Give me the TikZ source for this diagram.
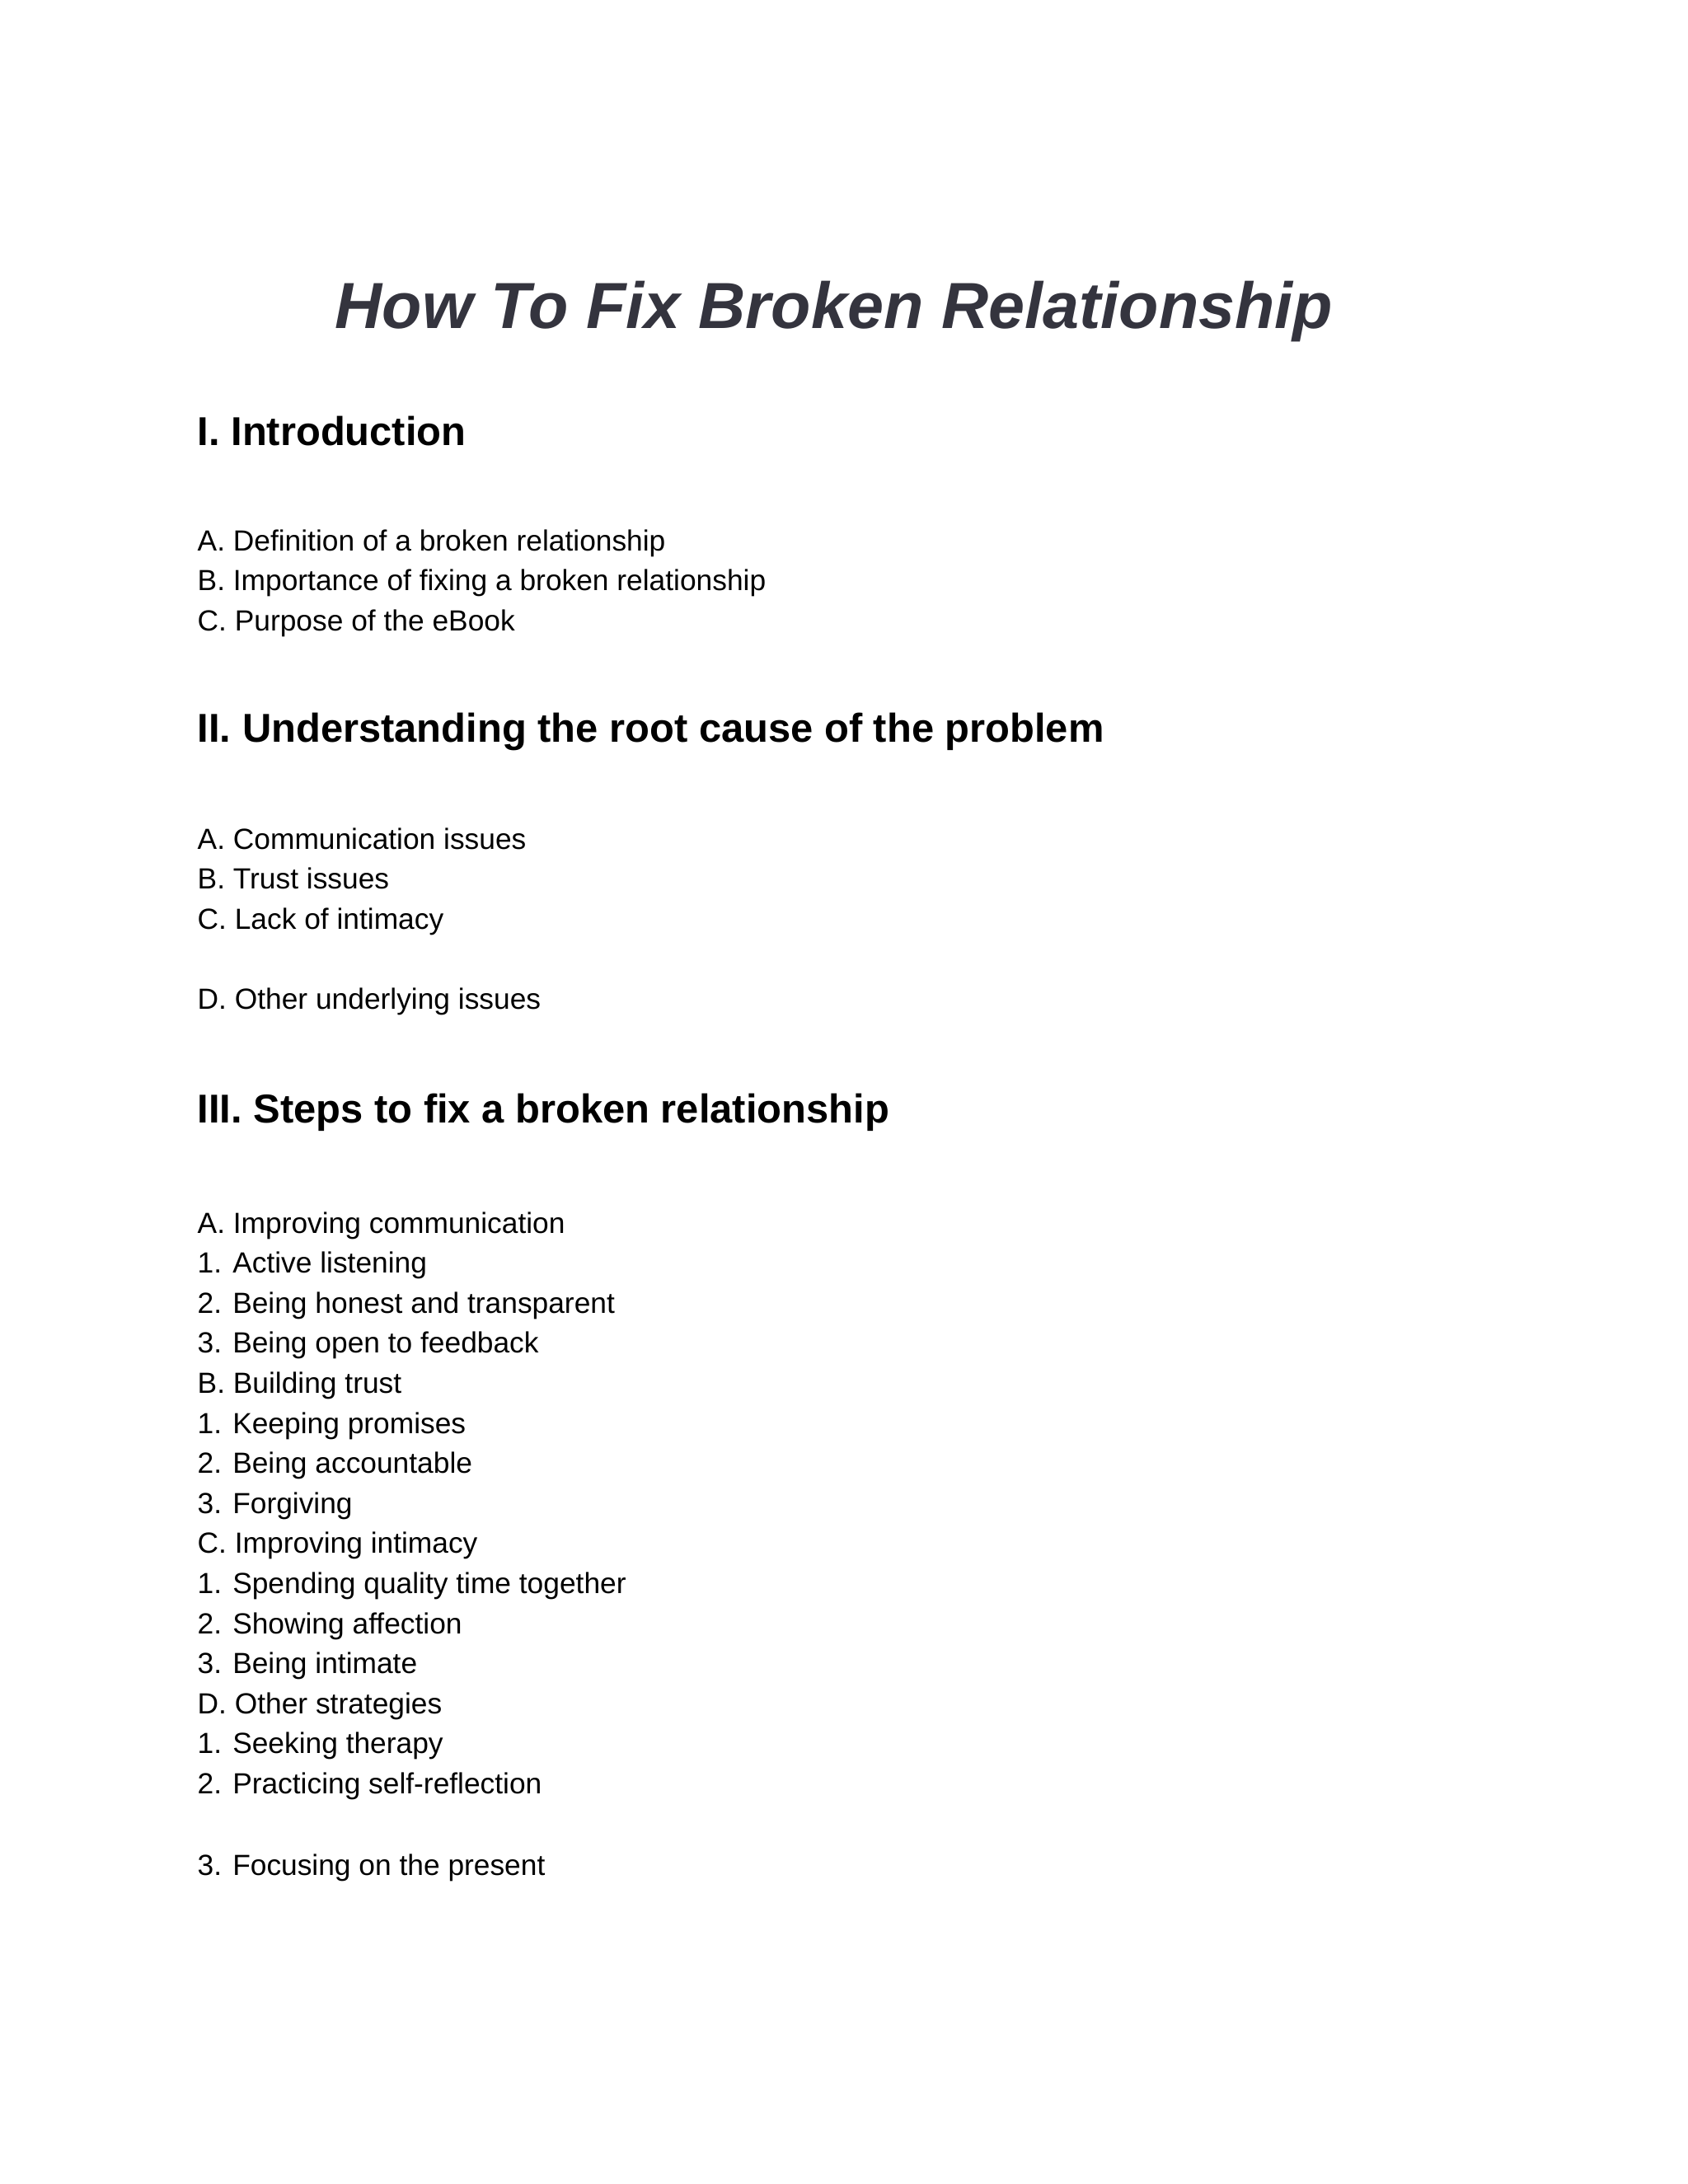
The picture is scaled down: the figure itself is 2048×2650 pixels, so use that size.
\documentclass[tikz,border=0pt]{standalone}
\usepackage{fontspec}
\setmainfont{Liberation Sans}
\definecolor{titlegrey}{HTML}{34343E}
\tikzset{
  titletext/.style={anchor=base, inner sep=0pt, text=titlegrey, font=\fontsize{22.5pt}{27pt}\selectfont\bfseries\itshape},
  headtext/.style={anchor=base west, inner sep=0pt, font=\fontsize{13.9pt}{17pt}\selectfont\bfseries},
  itemtext/.style={anchor=base west, inner sep=0pt, font=\fontsize{10.05pt}{12pt}\selectfont}
}
\begin{document}
\begin{tikzpicture}[x=0.01cm, y=-0.01cm]
    \useasboundingbox (0,0) rectangle (2048,2650);

    % Title
    \node[titletext] (title) at (1012,398) {How To Fix Broken Relationship};

    % Section I
    \node[headtext] (h1) at (239,540) {I. Introduction};
    \node[itemtext] (i1a) at (239,668) {A. Definition of a broken relationship};
    \node[itemtext] (i1b) at (239,716) {B. Importance of fixing a broken relationship};
    \node[itemtext] (i1c) at (239,765) {C. Purpose of the eBook};

    % Section II
    \node[headtext] (h2) at (239,900) {II. Understanding the root cause of the problem};
    \node[itemtext] (i2a) at (239,1030) {A. Communication issues};
    \node[itemtext] (i2b) at (239,1078) {B. Trust issues};
    \node[itemtext] (i2c) at (239,1127) {C. Lack of intimacy};
    \node[itemtext] (i2d) at (239,1224) {D. Other underlying issues};

    % Section III
    \node[headtext] (h3) at (239,1362) {III. Steps to fix a broken relationship};
    \foreach \txt [count=\k from 0] in {A. Improving communication, 1. Active listening,
        2. Being honest and transparent, 3. Being open to feedback, B. Building trust,
        1. Keeping promises, 2. Being accountable, 3. Forgiving, C. Improving intimacy,
        1. Spending quality time together, 2. Showing affection, 3. Being intimate,
        D. Other strategies, 1. Seeking therapy, 2. Practicing self-reflection}
        \node[itemtext] (i3-\k) at (239,1496+48.6*\k) {\txt};
    \node[itemtext] (i3-last) at (239,2275) {3. Focusing on the present};
\end{tikzpicture}
\end{document}
